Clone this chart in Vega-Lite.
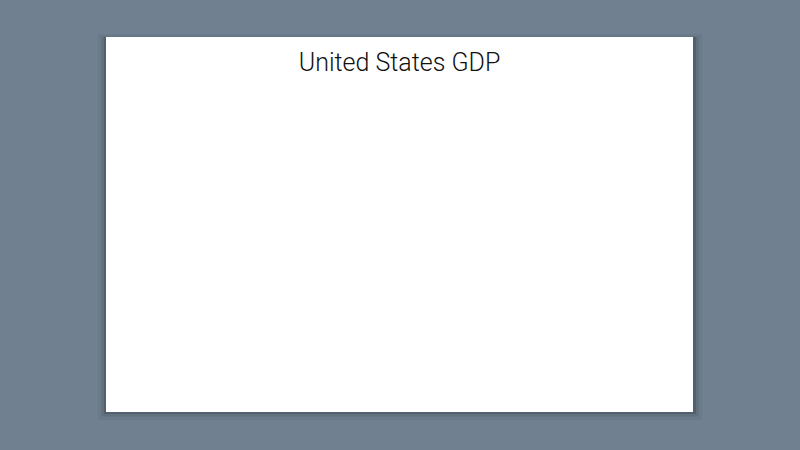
{
  "$schema": "https://vega.github.io/schema/vega-lite/v6.json",
  "description": "United States GDP card, no series drawn",
  "width": 587,
  "height": 375,
  "autosize": "none",
  "padding": {"left": 106, "top": 37, "right": 107, "bottom": 38},
  "background": "#708090",
  "title": {
    "text": "United States GDP",
    "font": "Roboto",
    "fontWeight": 300,
    "fontSize": 25,
    "color": "#111111",
    "anchor": "middle",
    "frame": "group",
    "baseline": "alphabetic",
    "offset": -62
  },
  "data": {"values": [{"country": "United States"}]},
  "layer": [
    {
      "mark": {"type": "rect", "fill": null, "stroke": "#1e2630", "strokeWidth": 16, "strokeOpacity": 0.07, "yOffset": 5, "xOffset": 1}
    },
    {
      "mark": {"type": "rect", "fill": null, "stroke": "#1e2630", "strokeWidth": 9, "strokeOpacity": 0.12, "yOffset": 4, "xOffset": 1}
    },
    {
      "mark": {"type": "rect", "fill": null, "stroke": "#1e2630", "strokeWidth": 4, "strokeOpacity": 0.22, "yOffset": 2, "xOffset": 1}
    },
    {
      "mark": {"type": "rect", "fill": "white", "stroke": null}
    }
  ],
  "config": {
    "view": {"fill": "white", "stroke": null, "clip": false}
  }
}
